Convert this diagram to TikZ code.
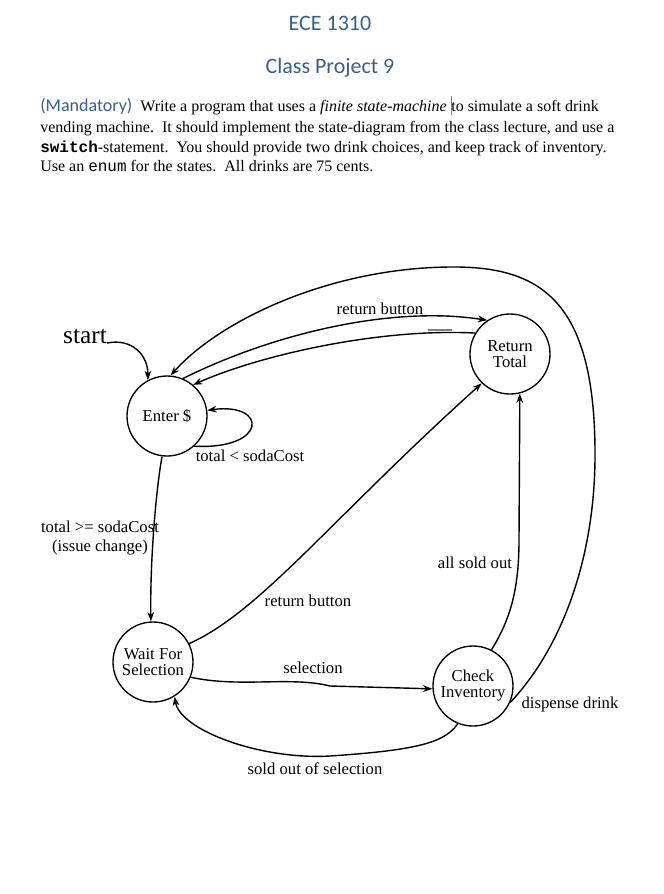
\documentclass[tikz,border=0pt]{standalone}
\usepackage{fontspec}
\setmainfont{Liberation Serif}
\setmonofont{Liberation Mono}
\newfontfamily\headfont{Carlito}
\usetikzlibrary{arrows.meta}
\definecolor{headblue}{RGB}{54,95,145}
\begin{document}
\begin{tikzpicture}[x=0.75pt, y=-0.75pt,
    state/.style={draw, line width=1pt, circle, minimum size=60pt, inner sep=0pt, align=center,
        font=\fontsize{12.5}{12}\selectfont},
    lbl/.style={inner sep=1pt, font=\fontsize{12.5}{14}\selectfont},
    line/.style={line width=1.05pt, -{Stealth[length=7pt, width=5pt]}},
    body/.style={anchor=base west, inner sep=0pt, font=\fontsize{12}{13}\selectfont},
    head/.style={anchor=base, inner sep=0pt, text=headblue, font=\headfont\fontsize{16.5}{18}\selectfont}]
    \useasboundingbox (0,0) rectangle (664,894);

    \node[head] (title) at (330,30) {ECE 1310};
    \node[head] (sub) at (330,73) {Class Project 9};

    \node[body] (para1) at (40,111) {{\headfont\fontsize{13.5}{13}\selectfont\color{headblue}(Mandatory)}\ \ Write a program that uses a \textit{finite state-machine} {\color{gray}\rule[-3pt]{0.4pt}{14pt}}to simulate a soft drink};
    \node[body] (para2) at (40,132) {vending machine.\ \ It should implement the state-diagram from the class lecture, and use a};
    \node[body] (para3) at (40,152) {{\ttfamily\bfseries switch}-statement.\ \ You should provide two drink choices, and keep track of inventory.};
    \node[body] (para4) at (40,171) {Use an {\ttfamily enum} for the states.\ \ All drinks are 75 cents.};

    \node[state] (enter) at (167,416) {Enter \$};
    \node[state] (ret) at (510,354) {Return\\Total};
    \node[state] (wait) at (153,662) {Wait For\\Selection};
    \node[state] (check) at (473,686) {Check\\Inventory};

    \node[anchor=base, inner sep=0pt, font=\fontsize{19}{20}\selectfont] (start) at (85,343) {start};
    \node[lbl] (rbtop) at (380,309) {return button};
    \node[lbl] (less) at (250,456) {total < sodaCost};
    \node[lbl, align=center] (more) at (100,538) {total >= sodaCost\\(issue change)};
    \node[lbl] (rbmid) at (308,601) {return button};
    \node[lbl] (sel) at (313,668) {selection};
    \node[lbl] (allout) at (475,563) {all sold out};
    \node[lbl] (selout) at (315,769) {sold out of selection};
    \node[lbl] (disp) at (570,704) {dispense drink};

    \draw[line] (start.base east) .. controls (132,338) and (148,355) .. (enter.118);
    \draw[line] (check.-24) .. controls (560,650) and (596,560) .. (595,450)
        .. controls (594,300) and (540,266) .. (450,267)
        .. controls (330,268) and (220,320) .. (enter.85);
    \draw[line] (enter.67) .. controls (270,335) and (390,305) .. (ret.124);
    \draw[line] (ret.149) .. controls (380,328) and (260,355) .. (enter.50);
    \draw[line width=1.4pt, gray] (428,330) -- (452,330);
    \draw[line] (enter.-48) .. controls (268,450) and (268,402) .. (enter.8);
    \draw[line] (enter.-97) .. controls (156,490) and (150,560) .. (wait.93);
    \draw[line] (wait.27) .. controls (260,612) and (330,520) .. (ret.226);
    \draw[line] (wait.-22) .. controls (240,688) and (290,676) .. (330,686) -- (check.184);
    \draw[line] (check.63) .. controls (510,620) and (519,590) .. (519,540) -- (ret.-76);
    \draw[line] (check.248) .. controls (445,742) and (420,750) .. (330,756)
        .. controls (260,760) and (180,730) .. (wait.-58);
\end{tikzpicture}
\end{document}
